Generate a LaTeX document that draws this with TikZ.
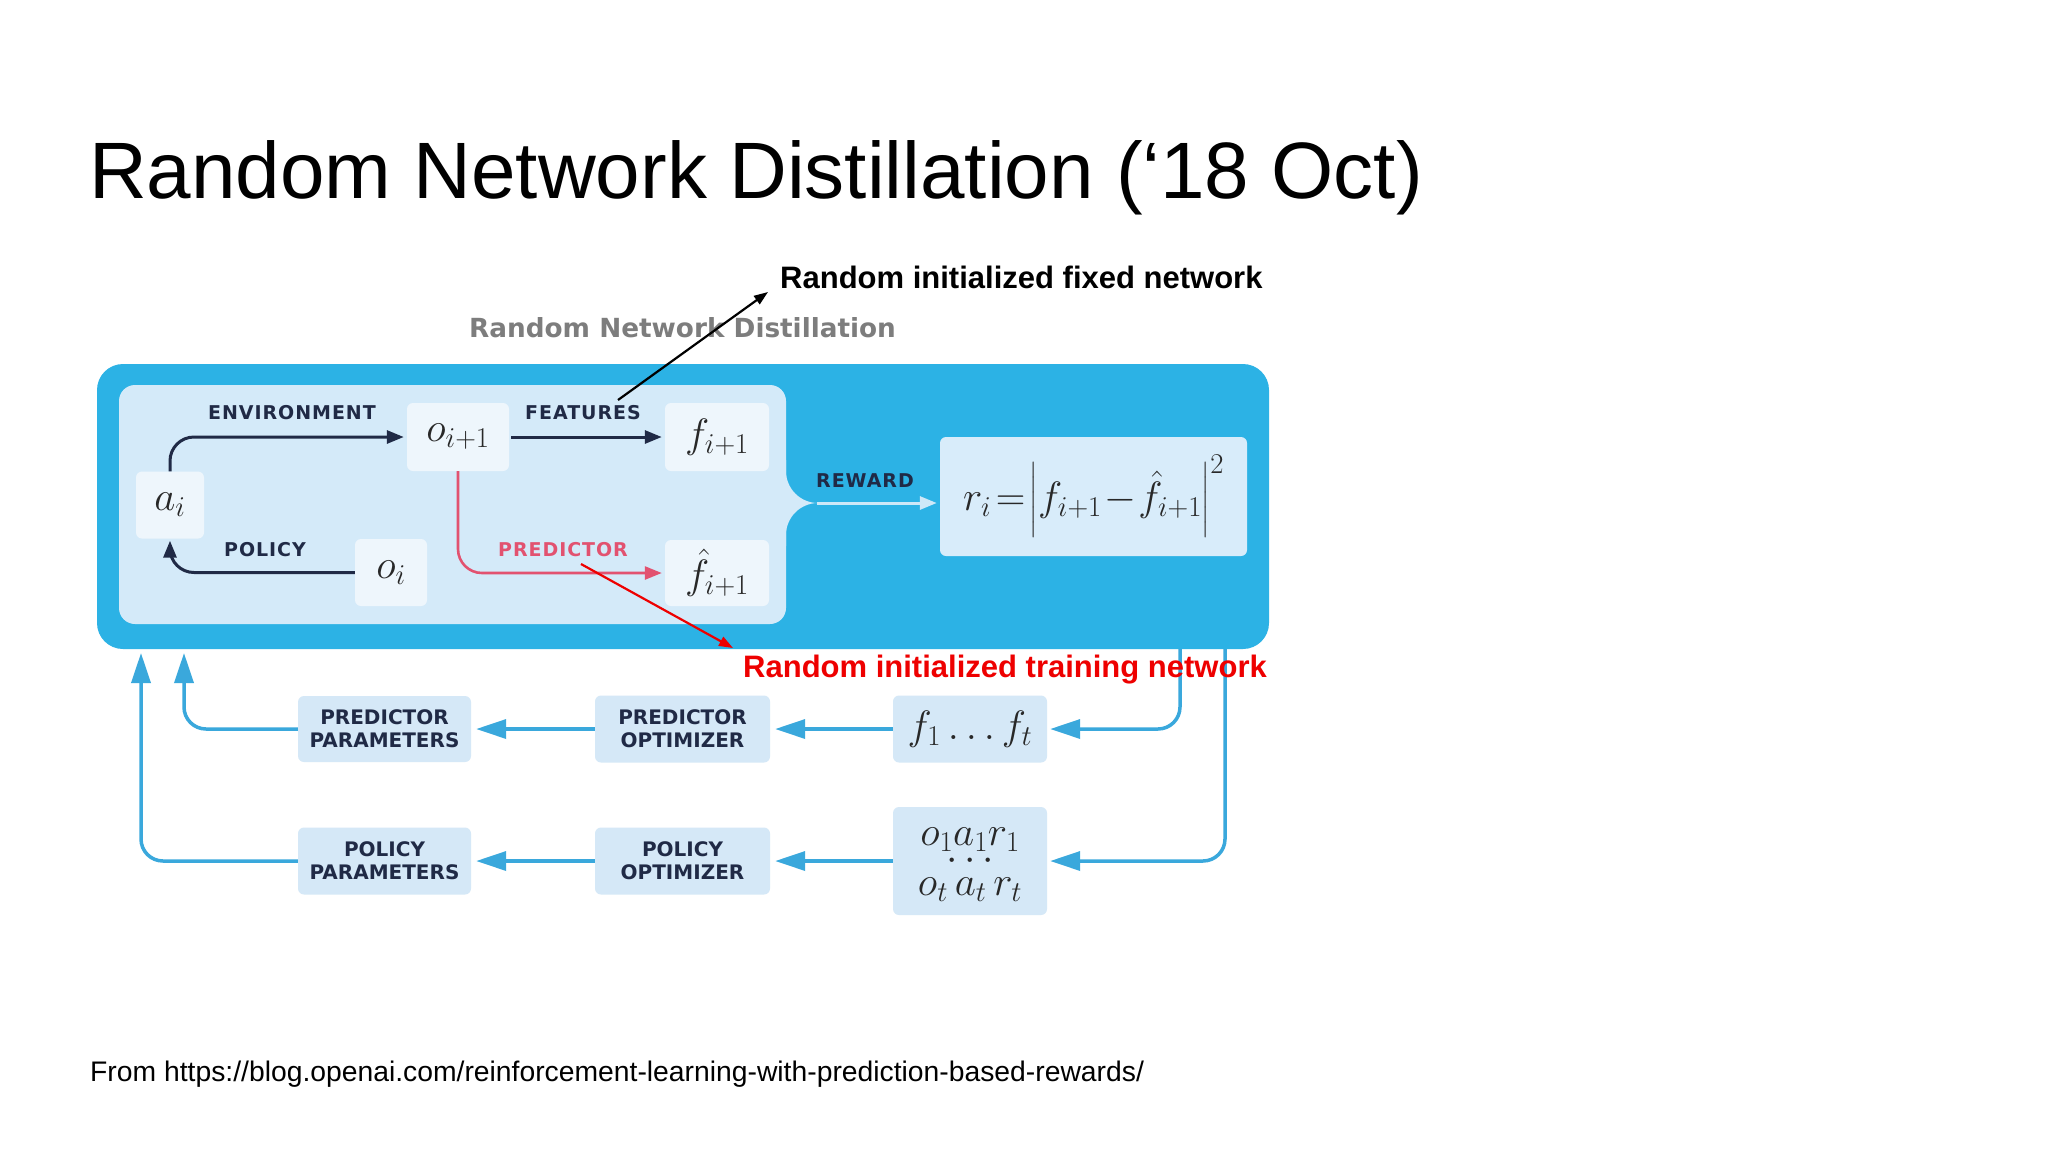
\RequirePackage{fix-cm}
\documentclass[tikz,border=0pt]{standalone}
\usepackage{amsmath}
\usepackage[no-math]{fontspec}
\usetikzlibrary{arrows.meta}
\newfontfamily\arialf{Liberation Sans}
\newfontfamily\dejav{DejaVu Sans}
\newfontfamily\dejavls[LetterSpace=5]{DejaVu Sans}
\newcommand\mathsz{\fontsize{41}{47}\selectfont}
\newcommand\boxfont{\dejav\bfseries\fontsize{20}{23}\selectfont}
\newcommand\toplabfont{\dejavls\bfseries\fontsize{19}{22}\selectfont}
\newcommand\annfont{\arialf\bfseries\fontsize{31}{36}\selectfont}
\definecolor{outerblue}{RGB}{44,178,229}
\definecolor{innerblue}{RGB}{212,234,249}
\definecolor{nodewhite}{RGB}{238,246,252}
\definecolor{rwblue}{RGB}{216,236,250}
\definecolor{boxblue}{RGB}{213,232,247}
\definecolor{arrowblue}{RGB}{58,168,220}
\definecolor{navy}{RGB}{32,42,70}
\definecolor{pinkred}{RGB}{226,82,112}
\definecolor{mathgray}{RGB}{40,40,40}
\definecolor{subgray}{RGB}{125,125,125}
\definecolor{rwline}{RGB}{205,232,248}
\definecolor{annred}{RGB}{238,0,0}
\begin{document}
\begin{tikzpicture}[x=1pt,y=-1pt,
  mbox/.style={fill=nodewhite, rounded corners=6pt, inner sep=0pt, font=\mathsz, text=mathgray},
  bbox/.style={fill=boxblue, rounded corners=6pt, align=center, font=\boxfont, text=navy, inner sep=0pt},
  toplbl/.style={font=\toplabfont, text=navy, inner sep=0pt},
  darrow/.style={draw=navy, line width=3pt, -{Triangle[length=17pt,width=13pt]}, rounded corners=24pt},
  parrow/.style={draw=pinkred, line width=2.6pt, -{Triangle[length=17pt,width=13pt]}, rounded corners=24pt},
  rarrow/.style={draw=rwline, line width=3pt, -{Triangle[length=17pt,width=13pt]}},
  barrow/.style={draw=arrowblue, line width=3.5pt, -{Triangle[length=30pt,width=19pt]}, rounded corners=22pt},
  annarrow/.style={line width=2.2pt, -{Triangle[length=14pt,width=10pt]}}]
\useasboundingbox[fill=white] (0,0) rectangle (2048,1152);

% title
\node[anchor=base west, inner sep=0, font=\arialf\fontsize{80}{90}\selectfont] (title) at (89,198) {Random Network Distillation (‘18 Oct)};
% subtitle
\node[anchor=base, inner sep=0, font=\dejav\bfseries\fontsize{26.3}{30}\selectfont, text=subgray] (sub) at (682.5,337) {Random Network Distillation};

% outer and inner boxes
\node[fill=outerblue, rounded corners=26pt, minimum width=1172pt, minimum height=285pt, inner sep=0] (outer) at (683,506.5) {};
\node[fill=innerblue, rounded corners=16pt, minimum width=667pt, minimum height=239pt, inner sep=0] (inner) at (452.5,504.5) {};
\fill[innerblue] (780,460) -- (786,460) -- (786,471) .. controls (786,488.7) and (800.3,503) .. (818,503)
  .. controls (800.3,503) and (786,517.3) .. (786,535) -- (786,546) -- (780,546) -- cycle;
\coordinate (cusp) at (817,503);

% top nodes
\node[mbox, minimum width=68pt, minimum height=67pt] (a) at (170,505) {$a_i$};
\node[mbox, minimum width=102pt, minimum height=68pt] (o1) at (458,437) {$o_{i+1}$};
\node[mbox, minimum width=104pt, minimum height=68pt] (f1) at (717,437) {$f_{i+1}$};
\node[mbox, minimum width=72pt, minimum height=67pt] (oi) at (391,572.5) {$o_i$};
\node[mbox, minimum width=104pt, minimum height=66pt] (fh) at (717,573) {$\hat{f}_{i+1}$};
\node[mbox, fill=rwblue, minimum width=307pt, minimum height=119pt] (rw) at (1093.5,496.5) {$r_i\!=\!\Big|f_{i+1}\!-\!\hat{f}_{i+1}\Big|^2$};

% top labels
\node[toplbl] (lenv) at (292,413) {ENVIRONMENT};
\node[toplbl] (lfeat) at (583,413) {FEATURES};
\node[toplbl] (lpol) at (265,550) {POLICY};
\node[toplbl, text=pinkred] (lpred) at (563,550) {PREDICTOR};
\node[toplbl] (lrew) at (865,481) {REWARD};

% top connectors
\draw[darrow, shorten >=3pt] (a.north) |- (o1.west);
\draw[darrow, shorten <=2pt, shorten >=3pt] (o1.east) -- (f1.west);
\draw[darrow, shorten >=2pt] (oi.west) -| (a.south);
\draw[parrow, shorten >=3pt] (o1.south) |- (fh.west);
\draw[rarrow, shorten >=3pt] (cusp) -- (cusp -| rw.west);

% bottom boxes
\node[bbox, minimum width=173pt, minimum height=66pt] (ppar) at (384.5,729) {PREDICTOR\\PARAMETERS};
\node[bbox, minimum width=175pt, minimum height=67pt] (popt) at (682.5,729) {PREDICTOR\\OPTIMIZER};
\node[bbox, minimum width=173pt, minimum height=67pt] (polpar) at (384.5,861) {POLICY\\PARAMETERS};
\node[bbox, minimum width=175pt, minimum height=67pt] (polopt) at (682.5,861) {POLICY\\OPTIMIZER};
\node[bbox, font=\mathsz, text=mathgray, minimum width=154pt, minimum height=67pt] (fbox) at (970,729) {$f_1\ldots f_t$};
\node[bbox, font=\mathsz, text=mathgray, minimum width=154pt, minimum height=108pt] (obox) at (970,861) {$\begin{array}{c} o_1a_1r_1\\[-22pt] \cdots\\[-22pt] o_t\,a_t\,r_t\end{array}$};

% bottom connectors
\coordinate (up1) at (184,653);
\coordinate (up2) at (141,653);
\coordinate (dn1) at (1180,649);
\coordinate (dn2) at (1225,649);
\draw[barrow, shorten >=5pt] (fbox.west) -- (popt.east);
\draw[barrow, shorten >=5pt] (popt.west) -- (ppar.east);
\draw[barrow, shorten >=5pt] (obox.west) -- (polopt.east);
\draw[barrow, shorten >=5pt] (polopt.west) -- (polpar.east);
\draw[barrow] (ppar.west) -| (up1);
\draw[barrow] (polpar.west) -| (up2);
\draw[barrow, shorten >=3pt] (dn1) |- (fbox.east);
\draw[barrow, shorten >=3pt] (dn2) |- (obox.east);

% annotations
\node[anchor=base west, inner sep=0, font=\annfont] (fixlbl) at (780,288) {Random initialized fixed network};
\node[anchor=base west, inner sep=0, font=\annfont, text=annred] (trlbl) at (743,677) {Random initialized training network};
\coordinate (fixfrom) at (618,400);
\coordinate (fixtip) at (768,292);
\coordinate (trfrom) at (581,564);
\coordinate (trtip) at (733,648);
\draw[annarrow] (fixfrom) -- (fixtip);
\draw[annarrow, annred] (trfrom) -- (trtip);

% footer
\node[anchor=base west, inner sep=0, font=\arialf\fontsize{28.3}{32}\selectfont] (src) at (90,1081) {From https://blog.openai.com/reinforcement-learning-with-prediction-based-rewards/};
\end{tikzpicture}
\end{document}
